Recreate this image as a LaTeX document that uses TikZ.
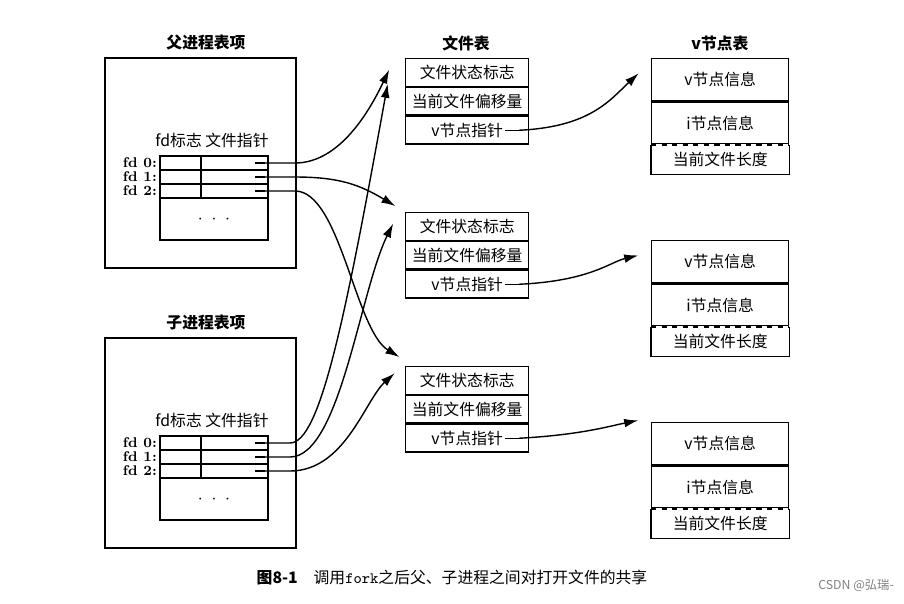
\documentclass[tikz,border=0pt]{standalone}
\usepackage{fontspec}
\newfontfamily\cjk{Noto Sans CJK SC}
\usetikzlibrary{positioning,arrows.meta}
\tikzset{
  cell/.style={draw, thick, minimum width=123*0.02cm, minimum height=27.5*0.02cm, inner sep=0pt, font=\cjk\small},
  vcell/.style={draw, thick, minimum width=137*0.02cm, minimum height=42*0.02cm, inner sep=0pt, font=\cjk\small},
  title/.style={font=\cjk\small\bfseries},
  fdlab/.style={font=\bfseries\footnotesize, anchor=east, inner sep=1pt},
  link/.style={thick, -{Latex[length=8pt,width=5pt]}, shorten >=1pt}
}
\begin{document}
\begin{tikzpicture}[x=0.02cm, y=-0.02cm]
\useasboundingbox (0,0) rectangle (904,603);
% process table entries
\foreach \p/\t/\y in {par/父进程表项/58, chd/子进程表项/338} {
  \draw[thick] (105,\y) rectangle ++(191,210);
  \node[title] (\p-title) at (206,\y-15) {\t};
  \node[font=\cjk\small] (\p-head) at (212,\y+82) {fd标志\ 文件指针};
  \draw[thick] (160,\y+98) rectangle ++(108,84);
  \foreach \r in {1,2,3} \draw[thick] (160,\y+98+14*\r) -- ++(108,0);
  \draw[thick] (201,\y+98) -- ++(0,42);
  \node (\p-dots) at (214,\y+162) {$\cdot\;\cdot\;\cdot$};
  \foreach \i in {0,1,2} {
    \node[fdlab] (\p-fd\i) at (159,\y+105+14*\i) {fd \i:};
    \draw[thick] (255,\y+105+14*\i) -- ++(10,0);
    \coordinate (\p-ptr\i) at (258,\y+105+14*\i);
  }
}
% file table and v-node table
\node[title] (ft-title) at (466,43) {文件表};
\node[title] (vt-title) at (720,43) {v节点表};
\foreach \k/\fy/\vy in {1/58/58, 2/212/240, 3/366/422} {
  \node[cell, anchor=north west] (f\k-a) at (405,\fy) {文件状态标志};
  \node[cell, below=0pt of f\k-a] (f\k-b) {当前文件偏移量};
  \node[cell, below=0pt of f\k-b] (f\k-c) {v节点指针};
  \coordinate (f\k-ptr) at ([xshift=-6pt]f\k-c.east);
  \draw[thick] (f\k-ptr) -- ++(-8pt,0);
  \node[vcell, anchor=north west] (v\k-a) at (651,\vy) {v节点信息};
  \node[vcell, below=0pt of v\k-a] (v\k-b) {i节点信息};
  \node[vcell, below=0pt of v\k-b, minimum height=28*0.02cm, draw=none] (v\k-c) {当前文件长度};
  \draw[thick] (v\k-c.north east) -- (v\k-c.south east) -- (v\k-c.south west) -- (v\k-c.north west);
  \draw[white, very thick] ([xshift=1pt]v\k-c.north west) -- ([xshift=-1pt]v\k-c.north east);
  \draw[thick, dashed] (v\k-c.north west) -- (v\k-c.north east);
}
% links
\coordinate (t1a) at (390,68);
\coordinate (t1b) at (388,82);
\coordinate (t2a) at (397,207);
\coordinate (t2b) at (394,222);
\coordinate (t3a) at (401,358);
\coordinate (t3b) at (396,372);
\draw[link] (par-ptr0) -- (295,163) .. controls (340,163) and (370,110) .. (t1a);
\draw[link] (par-ptr1) -- (295,177) .. controls (340,177) and (360,185) .. (t2a);
\draw[link] (par-ptr2) -- (295,191) .. controls (340,191) and (355,330) .. (t3a);
\draw[link] (chd-ptr0) -- (290,443) .. controls (320,443) and (345,320) .. (t1b);
\draw[link] (chd-ptr1) -- (290,457) .. controls (340,457) and (360,290) .. (t2b);
\draw[link] (chd-ptr2) -- (290,471) .. controls (345,471) and (365,400) .. (t3b);
\coordinate (v1-in) at (640,72);
\coordinate (v2-in) at (640,255);
\coordinate (v3-in) at (640,420);
\draw[link] (f1-ptr) .. controls (590,127) and (610,100) .. (v1-in);
\draw[link] (f2-ptr) .. controls (590,281) and (610,262) .. (v2-in);
\draw[link] (f3-ptr) .. controls (580,435) and (610,426) .. (v3-in);
% caption
\node[font=\cjk\small] (caption) at (452,578) {\textbf{图8-1}\quad 调用\texttt{fork}之后父、子进程之间对打开文件的共享};
\node[font=\cjk\scriptsize, text=gray, anchor=east] (mark) at (900,585) {CSDN @弘瑞-};
\end{tikzpicture}
\end{document}
